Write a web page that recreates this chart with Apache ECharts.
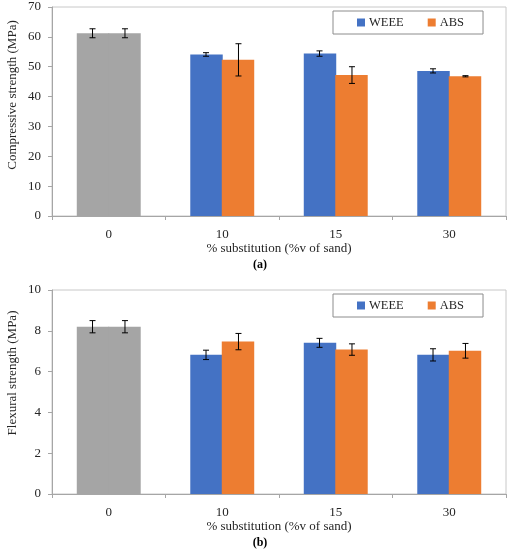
<!DOCTYPE html>
<html>
<head>
<meta charset="utf-8">
<script src="https://cdn.jsdelivr.net/npm/echarts@6/dist/echarts.min.js"></script>
<style>html,body{margin:0;padding:0;background:#fff}#c{width:512px;height:550px}</style>
</head>
<body>
<div id="c"></div>
<script>
const categories = ['0', '10', '15', '30'];
const seriesNames = ['WEEE', 'ABS'];
// (a) Compressive strength (MPa)
const compWEEE = [61.2, 54.1, 54.4, 48.6];
const compWEEEErr = [1.5, 0.6, 0.9, 0.7];
const compABS = [61.2, 52.3, 47.2, 46.8];
const compABSErr = [1.5, 5.4, 2.8, 0.2];
// (b) Flexural strength (MPa)
const flexWEEE = [8.2, 6.82, 7.41, 6.82];
const flexWEEEErr = [0.3, 0.23, 0.22, 0.3];
const flexABS = [8.2, 7.47, 7.08, 7.02];
const flexABSErr = [0.3, 0.4, 0.28, 0.36];
const yTicksA = [0, 10, 20, 30, 40, 50, 60, 70];
const yTicksB = [0, 2, 4, 6, 8, 10];

const FONT = 'Liberation Serif';
const TXT = '#262626';
const AX = '#a6a6a6';
const BLUE = '#4472c4', ORANGE = '#ed7d31', GREY = '#a5a5a5';
const BW = 0.286;

function barData(vals) {
  return vals.map((v, i) => i === 0 ? { value: v, itemStyle: { color: GREY } } : v);
}
function errSeries(vals, errs, sign, axisIdx) {
  return {
    type: 'custom', xAxisIndex: axisIdx, yAxisIndex: axisIdx, z: 10, silent: true,
    encode: { x: 0, y: 1 },
    data: vals.map((v, i) => [i, v, errs[i]]),
    renderItem: function (params, api) {
      const ci = api.value(0), v = api.value(1), e = api.value(2);
      const band = api.size([1, 0])[0];
      const off = sign * band * BW / 2;
      const top = api.coord([ci, v + e]);
      const bot = api.coord([ci, v - e]);
      const x = top[0] + off;
      const cap = 3;
      const st = { stroke: '#000', lineWidth: 1 };
      return {
        type: 'group', children: [
          { type: 'line', shape: { x1: x, y1: top[1], x2: x, y2: bot[1] }, style: st },
          { type: 'line', shape: { x1: x - cap, y1: top[1], x2: x + cap, y2: top[1] }, style: st },
          { type: 'line', shape: { x1: x - cap, y1: bot[1], x2: x + cap, y2: bot[1] }, style: st }
        ]
      };
    }
  };
}
function xAxis(gi) {
  return {
    type: 'category', gridIndex: gi, data: categories,
    name: '% substitution (%v of sand)', nameLocation: 'middle', nameGap: 22,
    nameTextStyle: { fontFamily: FONT, fontSize: 13, color: TXT },
    axisLine: { lineStyle: { color: AX } },
    axisTick: { show: true, length: 4, lineStyle: { color: AX } },
    axisLabel: { fontFamily: FONT, fontSize: 13, color: TXT, margin: 12 },
    splitLine: { show: false }
  };
}
function yAxis(gi, ticks) {
  return {
    type: 'value', gridIndex: gi, min: ticks[0], max: ticks[ticks.length - 1],
    interval: ticks[1] - ticks[0],
    axisLine: { show: true, lineStyle: { color: AX } },
    axisTick: { show: true, length: 4, lineStyle: { color: AX } },
    axisLabel: { fontFamily: FONT, fontSize: 13, color: TXT, margin: 11 },
    splitLine: { show: false }
  };
}
function legend(top) {
  return {
    data: seriesNames, left: 333, top: top, orient: 'horizontal',
    icon: 'rect', itemWidth: 8, itemHeight: 8, itemGap: 24,
    padding: [5, 19, 5, 24], borderColor: '#8c8c8c', borderWidth: 1,
    backgroundColor: '#fff',
    textStyle: { fontFamily: FONT, fontSize: 12.5, color: TXT, padding: [0, 0, 0, -1] }
  };
}
function bar(name, data, color, ai) {
  return { name: name, type: 'bar', xAxisIndex: ai, yAxisIndex: ai, data: barData(data),
    itemStyle: { color: color }, barWidth: (BW * 100) + '%', barGap: '-3%' };
}

const chart = echarts.init(document.getElementById('c'), null, { renderer: 'canvas' });
chart.setOption({
  animation: false,
  backgroundColor: '#fff',
  grid: [
    { left: 52, top: 7, width: 454, height: 209, show: true, borderColor: '#c8c8c8', borderWidth: 1, backgroundColor: 'transparent' },
    { left: 52, top: 290, width: 454, height: 204, show: true, borderColor: '#c8c8c8', borderWidth: 1, backgroundColor: 'transparent' }
  ],
  xAxis: [xAxis(0), xAxis(1)],
  yAxis: [yAxis(0, yTicksA), yAxis(1, yTicksB)],
  legend: [legend(11), legend(294)],
  graphic: [
    { type: 'text', x: 13, y: 95, rotation: Math.PI / 2, style: { text: 'Compressive strength (MPa)', font: '13px "Liberation Serif"', fill: TXT, textAlign: 'center', textVerticalAlign: 'middle' } },
    { type: 'text', x: 13, y: 373, rotation: Math.PI / 2, style: { text: 'Flexural strength (MPa)', font: '13px "Liberation Serif"', fill: TXT, textAlign: 'center', textVerticalAlign: 'middle' } },
    { type: 'text', x: 260, y: 265, style: { text: '(a)', font: 'bold 12px "Liberation Serif"', fill: '#000', textAlign: 'center', textVerticalAlign: 'middle' } },
    { type: 'text', x: 260, y: 543, style: { text: '(b)', font: 'bold 12px "Liberation Serif"', fill: '#000', textAlign: 'center', textVerticalAlign: 'middle' } }
  ],
  series: [
    bar('WEEE', compWEEE, BLUE, 0),
    bar('ABS', compABS, ORANGE, 0),
    bar('WEEE', flexWEEE, BLUE, 1),
    bar('ABS', flexABS, ORANGE, 1),
    errSeries(compWEEE, compWEEEErr, -1, 0),
    errSeries(compABS, compABSErr, 1, 0),
    errSeries(flexWEEE, flexWEEEErr, -1, 1),
    errSeries(flexABS, flexABSErr, 1, 1)
  ]
});
</script>
</body>
</html>
